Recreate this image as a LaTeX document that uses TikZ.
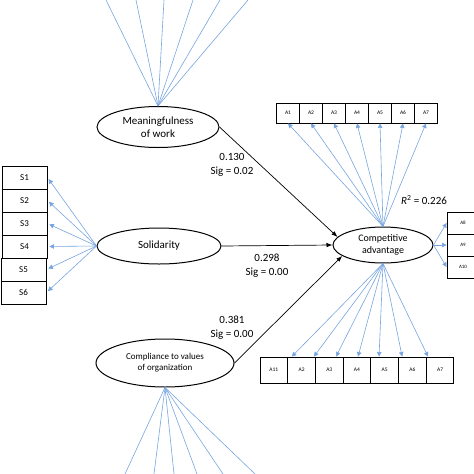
\documentclass[tikz,border=0pt]{standalone}
\usepackage{fontspec}
\setmainfont{Carlito}
\usetikzlibrary{positioning,arrows.meta,shapes.geometric}
\definecolor{lineblue}{RGB}{120,165,222}

\begin{document}
\begin{tikzpicture}[%
	x=1pt,y=-1pt,
	latent/.style = {shape=ellipse,draw,line width=1pt,inner sep=0pt,align=center,font=\fontsize{11}{13}\selectfont},
	item/.style = {shape=rectangle,draw,line width=0.9pt,inner sep=0pt,font=\fontsize{5.5}{6}\selectfont},
	sitem/.style = {item,minimum width=45pt,minimum height=23pt,font=\fontsize{9}{10}\selectfont},
	load/.style = {draw=lineblue,line width=0.6pt,-{Triangle[length=4.5pt,width=4.5pt]}},
	leg/.style = {draw=lineblue,line width=0.6pt},
	effect/.style = {draw,line width=0.7pt,-{Latex[length=6pt,width=4.5pt]}},
	coef/.style = {align=center,font=\fontsize{11}{14}\selectfont}
	]
 \clip (0,0) rectangle (474,474);
 \node [latent,minimum width=122pt,minimum height=41pt] (mean) at (158,127) {Meaningfulness\\of work};
 \node [latent,minimum width=124pt,minimum height=36pt] (soli) at (159,246) {Solidarity};
 \node [latent,minimum width=138pt,minimum height=48pt,font=\fontsize{9}{11}\selectfont] (compl) at (165,363) {Compliance to values\\of organization};
 \node [latent,minimum width=100pt,minimum height=36pt,font=\fontsize{10}{12}\selectfont] (comp) at (383,245) {Competitive\\advantage};
 % indicators
 \foreach \i in {1,...,7}
   \node [item,minimum width=23pt,minimum height=20pt] (a\i) at (265+23*\i,113) {A\i};
 \foreach \i/\t in {1/A11,2/A2,3/A3,4/A4,5/A5,6/A6,7/A7}
   \node [item,minimum width=27.7pt,minimum height=26pt] (b\i) at (246.15+27.7*\i,370) {\t};
 \foreach \i/\y in {8/223,9/245,10/267}
   \node [item,minimum width=32pt,minimum height=22pt,font=\fontsize{5}{6}\selectfont] (a\i) at (463,\y) {A\i};
 \foreach \i in {1,...,4}
   \node [sitem] (s\i) at (24.5,154.5+23*\i) {S\i};
 \foreach \i in {5,6}
   \node [sitem] (s\i) at (23.5,154.5+23*\i) {S\i};
 % loadings
 \foreach \i in {1,...,7}
   \draw [load] (comp.north) -- (a\i.south);
 \foreach \i/\d in {1/18,2/12.4,3/6.8,4/1.1,5/-5.6,6/-10.2,7/-12}
   \draw [load] (comp.south) -- ([xshift=\d pt]b\i.north);
 \foreach \i in {8,9,10}
   \draw [load] (comp.east) -- (a\i.west);
 \foreach \i in {1,...,6}
   \draw [load,shorten >=2pt] (soli.west) -- (s\i.east);
 \foreach \x [count=\i] in {106,136,164,193,220,248}
   \coordinate (mtop\i) at (\x,0);
 \foreach \i in {1,...,6}
   \draw [leg] (mean.north) -- (mtop\i);
 \foreach \x [count=\i] in {125,154,174,197,223,255}
   \coordinate (cbot\i) at (\x,474);
 \foreach \i in {1,...,6}
   \draw [leg] (compl.south) -- (cbot\i);
 % structural paths
 \draw [effect] (mean.east) -- (comp.170);
 \draw [effect] (soli.east) -- (comp.west);
 \draw [effect] (compl.east) -- (comp.195);
 \node [coef] (c1) at (232,165) {0.130\\Sig = 0.02};
 \node [coef] (c2) at (267,266) {0.298\\Sig = 0.00};
 \node [coef] (c3) at (232,328) {0.381\\Sig = 0.00};
 \node [coef] (r2) at (424,200) {\textit{R}\textsuperscript{2} = 0.226};
\end{tikzpicture}
\end{document}
